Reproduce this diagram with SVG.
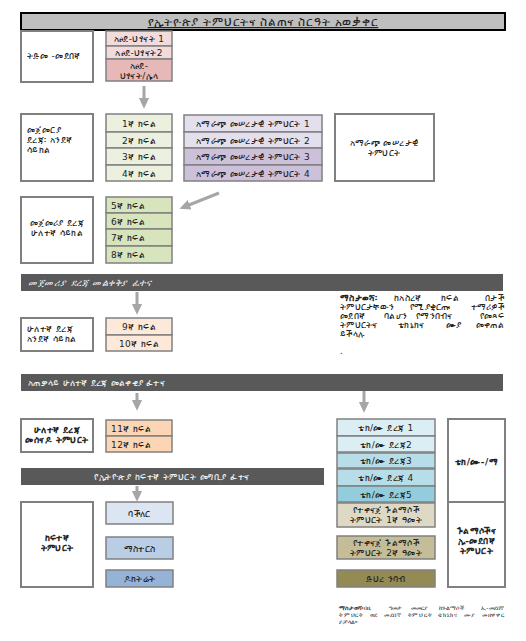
<svg xmlns="http://www.w3.org/2000/svg" width="526" height="641" viewBox="0 0 526 641">
<style>
text{font-family:"DejaVu Sans","Noto Sans",sans-serif;font-size:9px;letter-spacing:0.4px;fill:#222}
.box{fill:#fff;stroke:#808080;stroke-width:2}
.cell{stroke:#808080;stroke-width:1.5}
.bar{fill:#595959}
.bt{fill:#f2f2f2;font-size:9.5px;letter-spacing:0.6px}
.c{text-anchor:middle}
.e{text-anchor:end}
.b{font-weight:bold}
.n{font-size:8.5px;letter-spacing:0.3px}
.s{font-size:6px;letter-spacing:0.1px}
.arr{stroke:#a6a6a6;stroke-width:3;fill:none}
</style>
<defs>
<marker id="ah" markerWidth="4" markerHeight="4" refX="2" refY="2" orient="auto" markerUnits="strokeWidth">
<path d="M0,0.3 L3.6,2 L0,3.7 z" fill="#a6a6a6"/>
</marker>
</defs>
<rect width="526" height="641" fill="#fff"/>

<g id="title">
<rect x="21" y="13" width="484" height="17" fill="#bfbfbf" stroke="#000" stroke-width="2"/>
<text x="263" y="26" class="c" style="font-size:12px;letter-spacing:0.7px;text-decoration:underline">የኢትዮጵያ ትምህርትና ስልጠና ስርዓት አወቃቀር</text>
</g>

<g id="preschool">
<rect class="box" x="21" y="31" width="72" height="51"/>
<text x="27" y="59">ትድመ -መደበኛ</text>
</g>
<g id="kg">
<rect class="cell" x="106" y="31" width="66" height="15" fill="#f2dcdb"/>
<text x="139" y="42" class="c">አፀደ-ህፃናት 1</text>
<rect class="cell" x="106" y="46" width="66" height="13" fill="#f2dcdb"/>
<text x="139" y="56" class="c">አፀደ-ህፃናት2</text>
<rect class="cell" x="106" y="59" width="66" height="22" fill="#e6b9b8"/>
<text x="139" y="68.5" class="c">አፀደ-</text>
<text x="139" y="78.5" class="c">ህፃናት/ሌላ</text>
</g>

<g id="primary1">
<rect class="box" x="21" y="114" width="72" height="67"/>
<text x="27" y="133">መጀመርያ</text>
<text x="27" y="143">ደረጃ፡ አንደኛ</text>
<text x="27" y="153">ሳይክል</text>
</g>
<g id="grades1-4">
<rect class="cell" x="106" y="114" width="66" height="18" fill="#ebf1de"/>
<text x="139" y="126.5" class="c">1ኛ ክፍል</text>
<rect class="cell" x="106" y="132" width="66" height="16" fill="#ebf1de"/>
<text x="139" y="143.5" class="c">2ኛ ክፍል</text>
<rect class="cell" x="106" y="148" width="66" height="17" fill="#ebf1de"/>
<text x="139" y="160" class="c">3ኛ ክፍል</text>
<rect class="cell" x="106" y="165" width="66" height="16" fill="#ebf1de"/>
<text x="139" y="176.5" class="c">4ኛ ክፍል</text>
</g>
<g id="alt-basic">
<rect class="cell" x="184" y="115" width="138" height="17" fill="#e4dfec"/>
<text x="253" y="127" class="c">አማራጭ መሠረታዊ ትምህርት 1</text>
<rect class="cell" x="184" y="132" width="138" height="16" fill="#e4dfec"/>
<text x="253" y="143.5" class="c">አማራጭ መሠረታዊ ትምህርት 2</text>
<rect class="cell" x="184" y="148" width="138" height="17" fill="#ccc0da"/>
<text x="253" y="160" class="c">አማራጭ መሠረታዊ ትምህርት 3</text>
<rect class="cell" x="184" y="165" width="138" height="16" fill="#ccc0da"/>
<text x="253" y="176.5" class="c">አማራጭ መሠረታዊ ትምህርት 4</text>
</g>
<g id="alt-basic-label">
<rect class="box" x="335" y="114" width="99" height="67"/>
<text x="384" y="146" class="c">አማራጭ መሠረታዊ</text>
<text x="384" y="156" class="c">ትምህርት</text>
</g>

<g id="primary2">
<rect class="box" x="21" y="197" width="72" height="66"/>
<text x="57" y="226" class="c">መጀመሪያ ደረጃ</text>
<text x="57" y="236" class="c">ሁለተኛ ሳይክል</text>
</g>
<g id="grades5-8">
<rect class="cell" x="106" y="197" width="66" height="16" fill="#d7e4bc"/>
<text x="111" y="208.5">5ኛ ክፍል</text>
<rect class="cell" x="106" y="213" width="66" height="16" fill="#d7e4bc"/>
<text x="111" y="224.5">6ኛ ክፍል</text>
<rect class="cell" x="106" y="229" width="66" height="17" fill="#d7e4bc"/>
<text x="111" y="241">7ኛ ክፍል</text>
<rect class="cell" x="106" y="246" width="66" height="17" fill="#d7e4bc"/>
<text x="111" y="258">8ኛ ክፍል</text>
</g>

<g id="exam1">
<rect class="bar" x="21" y="274" width="482" height="17"/>
<text x="28" y="286" class="bt" style="font-style:italic">መጀመሪያ ደረጃ መልቀቅያ ፈተና</text>
</g>

<g id="secondary1">
<rect class="box" x="21" y="318" width="72" height="33"/>
<text x="27" y="332">ሁለተኛ ደረጃ</text>
<text x="27" y="342">አንደኛ ሳይክል</text>
</g>
<g id="grades9-10">
<rect class="cell" x="106" y="318" width="66" height="17" fill="#fde9d9"/>
<text x="139" y="330" class="c">9ኛ ክፍል</text>
<rect class="cell" x="106" y="335" width="66" height="16" fill="#fde9d9"/>
<text x="139" y="346.5" class="c">10ኛ ክፍል</text>
</g>

<g id="note1" class="n">
<text class="n b" x="340" y="301">ማስታወሻ፡</text>
<text class="n" x="394" y="301">ከአስረኛ</text>
<text class="n" x="441" y="301">ክፍል</text>
<text class="n e" x="504" y="301">በታች</text>
<text class="n" x="340" y="310">ትምህርታቸውን</text>
<text class="n" x="410" y="310">የሚያቋርጡ</text>
<text class="n e" x="504" y="310">ተማሪዎች</text>
<text class="n" x="340" y="319">መደበኛ</text>
<text class="n" x="384" y="319">ባልሆን</text>
<text class="n" x="416" y="319">የማንበብና</text>
<text class="n e" x="504" y="319">የመጻፍ</text>
<text class="n" x="340" y="328">ትምህርትና</text>
<text class="n" x="398" y="328">ቴክኒክና</text>
<text class="n" x="446" y="328">ሙያ</text>
<text class="n e" x="504" y="328">መቀጠል</text>
<text class="n" x="340" y="337">ይችላሉ</text>
<text class="n" x="340" y="354">.</text>
</g>

<g id="exam2">
<rect class="bar" x="21" y="374" width="482" height="17"/>
<text x="28" y="386" class="bt" style="font-size:8.5px;letter-spacing:0.3px">አጠቃላይ ሁለተኛ ደረጃ መልቀቂያ ፈተና</text>
</g>

<g id="prep">
<rect class="box" x="21" y="419" width="72" height="33"/>
<text x="57" y="433" class="c b">ሁለተኛ ደረጃ</text>
<text x="57" y="443" class="c b">መሰናዶ ትምህርት</text>
</g>
<g id="grades11-12">
<rect class="cell" x="106" y="420" width="66" height="16" fill="#fcd5b4"/>
<text x="111" y="431.5">11ኛ ክፍል</text>
<rect class="cell" x="106" y="436" width="66" height="16" fill="#fcd5b4"/>
<text x="111" y="447.5">12ኛ ክፍል</text>
</g>

<g id="exam3">
<rect class="bar" x="21" y="468" width="303" height="17"/>
<text x="172" y="480" class="bt c" style="font-size:9px;letter-spacing:0.5px">የኢትዮጵያ ከፍተኛ ትምህርት መግቢያ ፈተና</text>
</g>

<g id="higher">
<rect class="box" x="21" y="502" width="72" height="85"/>
<text x="57" y="541" class="c b">ከፍተኛ</text>
<text x="57" y="551" class="c b">ትምህርት</text>
</g>
<g id="bachelor">
<rect class="cell" x="106" y="502" width="67" height="22" fill="#dce6f2"/>
<text x="139.5" y="516.5" class="c">ባችለር</text>
</g>
<g id="master">
<rect class="cell" x="106" y="537" width="67" height="22" fill="#b9cde5"/>
<text x="139.5" y="551.5" class="c">ማስተርስ</text>
</g>
<g id="doctorate">
<rect class="cell" x="106" y="570" width="67" height="17" fill="#95b3d7"/>
<text x="139.5" y="582" class="c">ዶክትሬት</text>
</g>

<g id="tvet-levels">
<rect class="cell" x="337" y="419" width="98" height="17" fill="#dbeef4"/>
<text x="386" y="431" class="c">ቴክ/ሙ ደረጃ 1</text>
<rect class="cell" x="337" y="436" width="98" height="16" fill="#dbeef4"/>
<text x="386" y="447.5" class="c">ቴክ/ሙ ደረጃ2</text>
<rect class="cell" x="337" y="453" width="98" height="15" fill="#b7dee8"/>
<text x="386" y="464" class="c">ቴክ/ሙ ደረጃ3</text>
<rect class="cell" x="337" y="469" width="98" height="17" fill="#b7dee8"/>
<text x="386" y="481" class="c">ቴክ/ሙ ደረጃ 4</text>
<rect class="cell" x="337" y="486" width="98" height="16" fill="#93cddd"/>
<text x="386" y="497.5" class="c">ቴክ/ሙ ደረጃ5</text>
</g>
<g id="adult1">
<rect class="cell" x="337" y="503" width="98" height="24" fill="#ddd9c4"/>
<text x="386" y="513" class="c">የተቀናጀ ጉልማሶች</text>
<text x="386" y="523" class="c">ትምህርት 1ኛ ዓመት</text>
</g>
<g id="adult2">
<rect class="cell" x="337" y="536" width="98" height="23" fill="#c4bd97"/>
<text x="386" y="546" class="c">የተቀናጀ ጉልማሶች</text>
<text x="386" y="556" class="c">ትምህርት 2ኛ ዓመት</text>
</g>
<g id="post-literacy">
<rect class="cell" x="337" y="570" width="98" height="17" fill="#948a54"/>
<text x="386" y="582" class="c">ድህረ ንባብ</text>
</g>

<g id="tvet">
<rect class="box" x="448" y="419" width="57" height="83"/>
<text x="476.5" y="465" class="c b">ቴክ/ሙ-/ማ</text>
</g>
<g id="adult-nonformal">
<rect class="box" x="448" y="502" width="57" height="85"/>
<text x="476.5" y="534" class="c b">ጉልማሶችና</text>
<text x="476.5" y="544" class="c b">ኢ-መደበኛ</text>
<text x="476.5" y="554" class="c b">ትምህርት</text>
</g>

<g id="note2">
<text class="s" x="339" y="610"><tspan style="font-weight:bold">ማስታወሻ፡</tspan>በዚ</text>
<text class="s" x="389" y="610">ግመታ</text>
<text class="s" x="411" y="610">መመርያ</text>
<text class="s" x="439" y="610">ከጉልማሶች</text>
<text class="s e" x="504" y="610">ኢ-መደበኛ</text>
<text class="s" x="339" y="617" textLength="165" lengthAdjust="spacing" style="word-spacing:3px">ትምህርት ወደ መደበኛ ትምህርት ቴክኒክና ሙያ መዘዋዋር</text>
<text class="s" x="339" y="624">ይቻላል፡፡</text>
</g>

<g id="connectors">
<line class="arr" x1="144" y1="86" x2="144" y2="104" marker-end="url(#ah)"/>
<line class="arr" x1="219" y1="193" x2="184" y2="207" marker-end="url(#ah)"/>
<line class="arr" x1="137" y1="292" x2="137" y2="310" marker-end="url(#ah)"/>
<line class="arr" x1="137" y1="393" x2="137" y2="406" marker-end="url(#ah)"/>
<line class="arr" x1="364" y1="391" x2="364" y2="408" marker-end="url(#ah)"/>
<line class="arr" x1="137" y1="486" x2="137" y2="497" marker-end="url(#ah)"/>
</g>
</svg>
